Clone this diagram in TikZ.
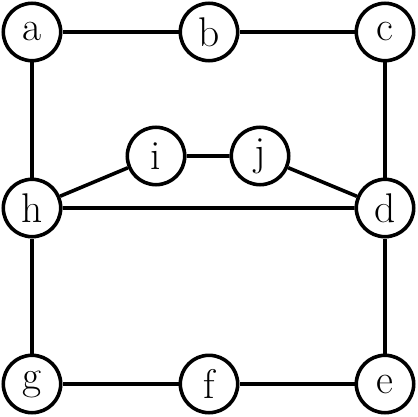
\documentclass[tikz,border=0pt]{standalone}
\usepackage{tikz}
\usetikzlibrary{positioning}
\tikzset{
  vx/.style={circle,draw=black,line width=1.8pt,fill=white,minimum size=28.7pt,inner sep=0pt,font=\huge},
  ed/.style={line width=1.8pt,black}
}
\begin{document}
\begin{tikzpicture}[x=0.5pt,y=-0.5pt]
\useasboundingbox (0,0) rectangle (417,417);
\node[vx] (a) at (32,32) {a};
\node[vx] (b) at (209,32) {b};
\node[vx] (c) at (385,32) {c};
\node[vx] (h) at (32,208) {h};
\node[vx] (d) at (385,208) {d};
\node[vx] (g) at (32,384) {g};
\node[vx] (f) at (209,384) {f};
\node[vx] (e) at (385,384) {e};
\node[vx] (i) at (156,156) {i};
\node[vx] (j) at (260,156) {j};
\draw[ed] (a)--(b) (b)--(c) (c)--(d) (d)--(e) (e)--(f) (f)--(g) (g)--(h) (h)--(a);
\draw[ed] (h)--(d) (h)--(i) (i)--(j) (j)--(d);
\end{tikzpicture}
\end{document}
